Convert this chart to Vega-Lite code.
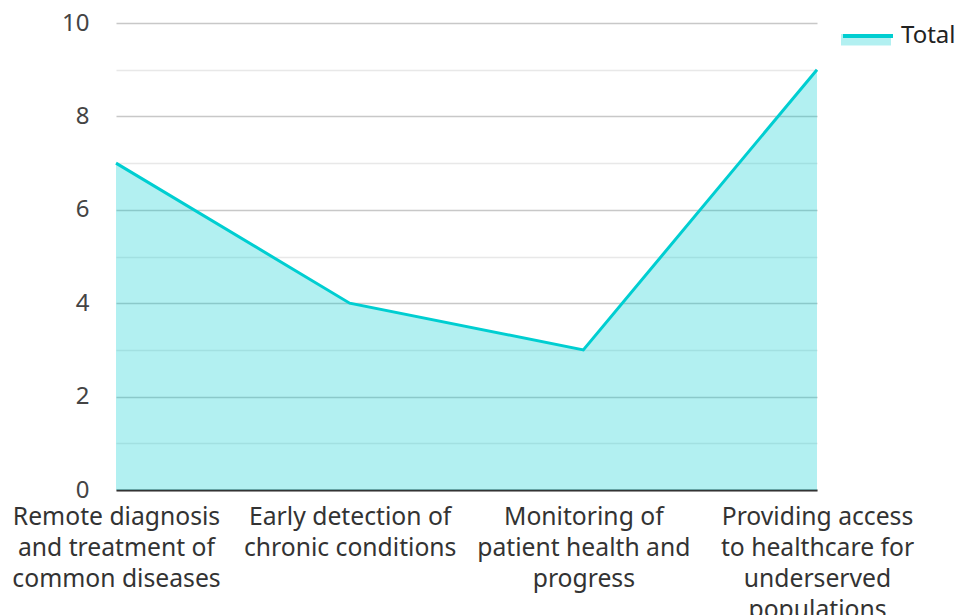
{
  "$schema": "https://vega.github.io/schema/vega-lite/v6.json",
  "width": 701,
  "height": 467,
  "autosize": "none",
  "padding": {"left": 116, "top": 23, "right": 142, "bottom": 125},
  "background": "white",
  "config": {
    "font": "Noto Sans",
    "view": {"stroke": null}
  },
  "data": {
    "values": [
      {"category": "Remote diagnosis and treatment of common diseases", "value": 7, "series": "Total"},
      {"category": "Early detection of chronic conditions", "value": 4, "series": "Total"},
      {"category": "Monitoring of patient health and progress", "value": 3, "series": "Total"},
      {"category": "Providing access to healthcare for underserved populations", "value": 9, "series": "Total"}
    ]
  },
  "encoding": {
    "x": {
      "field": "category",
      "type": "nominal",
      "sort": null,
      "scale": {"type": "point", "padding": 0},
      "axis": {
        "title": null,
        "labelAngle": 0,
        "labelFontSize": 24.7,
        "labelLineHeight": 31,
        "labelLimit": 0,
        "labelColor": "#333333",
        "labelPadding": 14,
        "labelBaseline": "top",
        "ticks": false,
        "domainColor": "#333333",
        "domainWidth": 2,
        "grid": false,
        "labelExpr": "datum.value == 'Remote diagnosis and treatment of common diseases' ? ['Remote diagnosis','and treatment of','common diseases'] : datum.value == 'Early detection of chronic conditions' ? ['Early detection of','chronic conditions'] : datum.value == 'Monitoring of patient health and progress' ? ['Monitoring of','patient health and','progress'] : ['Providing access','to healthcare for','underserved','populations']"
      }
    },
    "y": {
      "field": "value",
      "type": "quantitative",
      "scale": {"domain": [0, 10], "nice": false},
      "axis": {
        "title": null,
        "values": [0, 1, 2, 3, 4, 5, 6, 7, 8, 9, 10],
        "labelExpr": "datum.value % 2 === 0 ? datum.label : ''",
        "labelFontSize": 24,
        "labelColor": "#444444",
        "labelPadding": 27,
        "ticks": false,
        "domain": false,
        "gridColor": {"condition": {"test": "datum.value % 2 === 0", "value": "#c8c8c8"}, "value": "#e8e8e8"},
        "gridWidth": 1.5
      }
    }
  },
  "layer": [
    {
      "mark": {"type": "area", "opacity": 0.3},
      "encoding": {
        "fill": {
          "field": "series",
          "type": "nominal",
          "scale": {"range": ["#00CED1"]},
          "legend": {
            "orient": "none",
            "legendX": 725,
            "legendY": -14,
            "title": null,
            "padding": 0,
            "symbolType": "M-1,0 L1,0 L1,0.46 L-1,0.46 Z",
            "symbolSize": 2500,
            "symbolOpacity": 0.3,
            "symbolStrokeWidth": 0,
            "labelFontSize": 24,
            "labelColor": "#222222",
            "labelOffset": 6,
            "labelOpacity": 0
          }
        }
      }
    },
    {
      "mark": {"type": "line", "strokeWidth": 3},
      "encoding": {
        "stroke": {
          "field": "series",
          "type": "nominal",
          "scale": {"range": ["#00CED1"]},
          "legend": {
            "orient": "none",
            "legendX": 725,
            "legendY": -14,
            "title": null,
            "padding": 0,
            "symbolType": "stroke",
            "symbolSize": 2500,
            "symbolStrokeWidth": 4,
            "labelFontSize": 24,
            "labelColor": "#222222",
            "labelOffset": 6
          }
        }
      }
    }
  ]
}
